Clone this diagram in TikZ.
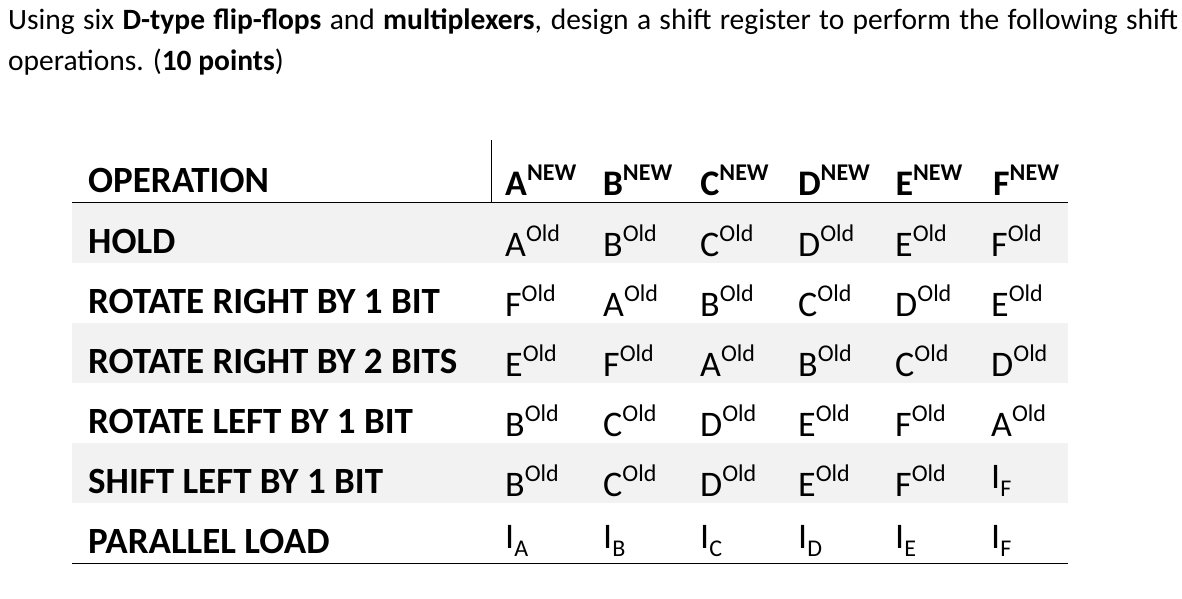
\documentclass[tikz,border=0pt]{standalone}
\usepackage{fontspec}
\setmainfont{Carlito}
\definecolor{rowgray}{HTML}{F2F2F2}
\begin{document}
\begin{tikzpicture}[x=1pt,y=-1pt,
  txt/.style={anchor=west,inner sep=0pt,font=\fontsize{29.5}{34}\selectfont},
  op/.style={anchor=west,inner sep=0pt,font=\fontsize{37}{42}\selectfont\bfseries},
  cell/.style={anchor=west,inner sep=0pt,font=\fontsize{36}{40}\selectfont},
  hd/.style={anchor=west,inner sep=0pt,font=\fontsize{36}{40}\selectfont\bfseries}]
\useasboundingbox (0,0) rectangle (1182,599);
\node[txt] (t1) at (8,22) {\makebox[1170pt][s]{Using six \textbf{D-type flip-flops} and \textbf{multiplexers}, design a shift register to perform the following shift}};
\node[txt] (t2) at (8,62) {operations. (\textbf{10 points})};
\foreach \y in {203,323,443}{\fill[rowgray] (72,\y) rectangle (1068,\y+60);}
\draw[line width=0.8pt] (72,202) -- (1068,202);
\draw[line width=1pt] (72,563) -- (1068,563);
\draw[line width=0.8pt] (491,140) -- (491,202);
\node[op] (h0) at (88,180) {OPERATION};
\foreach \l [count=\i from 0] in {A,B,C,D,E,F}{
  \pgfmathsetmacro{\xx}{505+97.6*\i}
  \node[hd] (h\l) at (\xx,180) {\l\raisebox{0.42em}{\fontsize{24}{28}\selectfont NEW}};}
\newcommand{\od}[1]{#1\raisebox{0.42em}{\fontsize{24}{28}\selectfont Old}}
\newcommand{\inp}[1]{I\raisebox{-0.2em}{\fontsize{24}{28}\selectfont #1}}
\foreach \name/\a/\b/\c/\d/\e/\f [count=\r from 0] in {
 HOLD/\od A/\od B/\od C/\od D/\od E/\od F,
 ROTATE RIGHT BY 1 BIT/\od F/\od A/\od B/\od C/\od D/\od E,
 ROTATE RIGHT BY 2 BITS/\od E/\od F/\od A/\od B/\od C/\od D,
 ROTATE LEFT BY 1 BIT/\od B/\od C/\od D/\od E/\od F/\od A,
 SHIFT LEFT BY 1 BIT/\od B/\od C/\od D/\od E/\od F/\inp F,
 PARALLEL LOAD/\inp A/\inp B/\inp C/\inp D/\inp E/\inp F}{
  \pgfmathsetmacro{\yy}{241+60*\r}
  \node[op] (r\r) at (88,\yy) {\name};
  \node[cell] (c\r a) at (505,\yy) {\a};
  \node[cell] (c\r b) at (603,\yy) {\b};
  \node[cell] (c\r c) at (700,\yy) {\c};
  \node[cell] (c\r d) at (798,\yy) {\d};
  \node[cell] (c\r e) at (895,\yy) {\e};
  \node[cell] (c\r f) at (991,\yy) {\f};
}
\end{tikzpicture}
\end{document}
